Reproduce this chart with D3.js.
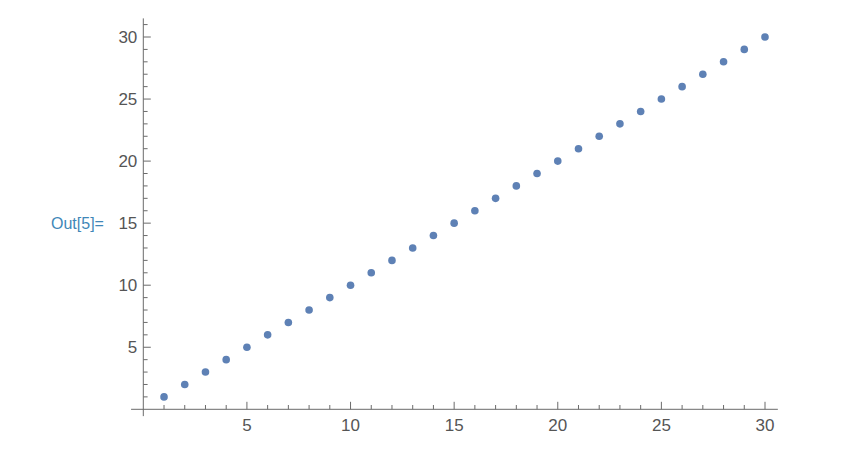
<!DOCTYPE html>
<html>
<head>
<meta charset="utf-8">
<script src="https://cdn.jsdelivr.net/npm/d3@7"></script>
<style>
  body { margin: 0; background: #fff; }
  svg text { font-family: "Liberation Sans", Arial, sans-serif; }
</style>
</head>
<body>
<svg id="chart" width="855" height="451"></svg>
<script>
// data: points (n, n) for n = 1..30
var xValues = [1,2,3,4,5,6,7,8,9,10,11,12,13,14,15,16,17,18,19,20,21,22,23,24,25,26,27,28,29,30];
var yValues = [1,2,3,4,5,6,7,8,9,10,11,12,13,14,15,16,17,18,19,20,21,22,23,24,25,26,27,28,29,30];
var xTicks = [5, 10, 15, 20, 25, 30];
var yTicks = [5, 10, 15, 20, 25, 30];
var outLabel = "Out[5]=";

var svg = d3.select("#chart");
var axisColor = "#6b6b6b";
var labelColor = "#555555";

// setup scales
var xScale = d3.scaleLinear().domain([0, 30]).range([143.3, 765]);
var yScale = d3.scaleLinear().domain([0, 30]).range([409.3, 37]);

var xMinor = d3.range(-0, 31).filter(function(d) { return xTicks.indexOf(d) < 0 && d > 0; });
var yMinor = d3.range(0, 32).filter(function(d) { return yTicks.indexOf(d) < 0 && d > 0; });

// x axis
var gx = svg.append("g").attr("class", "x axis");
gx.append("line")
  .attr("x1", xScale(-0.59)).attr("x2", xScale(30.62))
  .attr("y1", yScale(0)).attr("y2", yScale(0))
  .style("stroke", axisColor).style("stroke-width", 1);
gx.selectAll(".major")
  .data(xTicks).enter().append("line")
  .attr("x1", xScale).attr("x2", xScale)
  .attr("y1", yScale(0)).attr("y2", yScale(0) - 7.5)
  .style("stroke", axisColor);
gx.selectAll(".minor")
  .data(xMinor).enter().append("line")
  .attr("x1", xScale).attr("x2", xScale)
  .attr("y1", yScale(0)).attr("y2", yScale(0) - 4.3)
  .style("stroke", axisColor);
gx.selectAll("text")
  .data(xTicks).enter().append("text")
  .attr("x", xScale)
  .attr("y", yScale(0) + 22)
  .style("text-anchor", "middle")
  .style("font-size", "17px")
  .style("fill", labelColor)
  .text(function(d) { return d; });

// y axis
var gy = svg.append("g").attr("class", "y axis");
gy.append("line")
  .attr("x1", xScale(0)).attr("x2", xScale(0))
  .attr("y1", yScale(-0.55)).attr("y2", yScale(31.5))
  .style("stroke", axisColor).style("stroke-width", 1);
gy.selectAll(".major")
  .data(yTicks).enter().append("line")
  .attr("x1", xScale(0)).attr("x2", xScale(0) + 7.5)
  .attr("y1", yScale).attr("y2", yScale)
  .style("stroke", axisColor);
gy.selectAll(".minor")
  .data(yMinor).enter().append("line")
  .attr("x1", xScale(0)).attr("x2", xScale(0) + 4.3)
  .attr("y1", yScale).attr("y2", yScale)
  .style("stroke", axisColor);
gy.selectAll("text")
  .data(yTicks).enter().append("text")
  .attr("x", xScale(0) - 6)
  .attr("y", yScale)
  .attr("dy", "0.35em")
  .style("text-anchor", "end")
  .style("font-size", "17px")
  .style("fill", labelColor)
  .text(function(d) { return d; });

// Out label
svg.append("text")
  .attr("x", 51)
  .attr("y", yScale(15))
  .attr("dy", "0.35em")
  .style("font-size", "16px")
  .style("fill", "#3f87b8")
  .text(outLabel);

// draw dots
svg.selectAll(".dot")
  .data(xValues).enter().append("circle")
  .attr("class", "dot")
  .attr("r", 3.8)
  .attr("cx", function(d) { return xScale(d); })
  .attr("cy", function(d, i) { return yScale(yValues[i]); })
  .style("fill", "#5e81b5");
</script>
</body>
</html>
